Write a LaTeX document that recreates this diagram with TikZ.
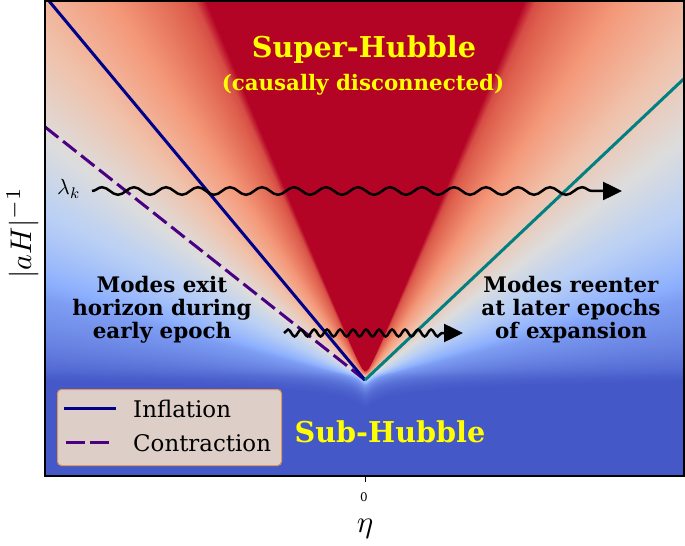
\documentclass[tikz,border=0pt]{standalone}
\usepackage{fontspec}
\usepackage{graphicx}
\usetikzlibrary{decorations.pathmorphing,arrows.meta}
\newfontfamily\djs{DejaVu Serif}
\definecolor{inflc}{HTML}{00008B}
\definecolor{tealc}{HTML}{008080}
\definecolor{contc}{HTML}{4B0082}
\definecolor{legfill}{RGB}{221,207,200}
\definecolor{legedge}{RGB}{222,150,90}
\definecolor{labyel}{HTML}{FFFF00}

\pgfdeclarefunctionalshading{bgfield}{\pgfpointorigin}{\pgfpoint{639bp}{476bp}}{}{
 96 sub dup 8 lt { 8 sub 6 div 2.71828 exch exp 8 mul } if
 exch 320 sub dup mul 16 add sqrt exch div
 dup 0.42 le { pop 1 }
 { dup 0.45 le { 0.42 sub -3.333 mul 1 add }
   { dup 1.78 le { ln 0.799 add -0.371 mul 0.9 add }
     { dup 4 le { ln 0.577 sub -0.235 mul 0.39 add }
       { sqrt 0.4 exch div } ifelse }
     ifelse }
   ifelse }
 ifelse
 dup 0.03 lt { pop 0.03 } if
 dup 0.5 le
 { dup 0.25 le
   { 4 mul dup 0.324 mul 0.230 add exch dup 0.391 mul 0.299 add exch 0.242 mul 0.754 add }
   { dup 0.375 le
     { 0.25 sub 8 mul dup 0.181 mul 0.554 add exch dup 0.128 mul 0.690 add exch -0.041 mul 0.996 add }
     { 0.375 sub 8 mul dup 0.130 mul 0.735 add exch dup 0.047 mul 0.818 add exch -0.090 mul 0.955 add }
     ifelse }
   ifelse }
 { dup 0.75 le
   { dup 0.625 le
     { 0.5 sub 8 mul dup 0.075 mul 0.865 add exch dup -0.105 mul 0.865 add exch -0.195 mul 0.865 add }
     { 0.625 sub 8 mul dup 0.017 mul 0.940 add exch dup -0.162 mul 0.760 add exch -0.193 mul 0.670 add }
     ifelse }
   { dup 0.875 le
     { 0.75 sub 8 mul dup -0.087 mul 0.957 add exch dup -0.228 mul 0.598 add exch -0.177 mul 0.477 add }
     { 0.875 sub 8 mul dup -0.164 mul 0.870 add exch dup -0.354 mul 0.370 add exch -0.150 mul 0.300 add }
     ifelse }
   ifelse }
 ifelse
}

\tikzset{
  hubble/.style={font=\djs\bfseries\fontsize{28.8}{32}\selectfont, text=labyel, anchor=base},
  causal/.style={font=\djs\bfseries\fontsize{21.4}{25}\selectfont, text=labyel, anchor=base},
  modetext/.style={font=\djs\bfseries\fontsize{21.5}{24}\selectfont, text=black, anchor=base},
  legtext/.style={font=\djs\fontsize{23}{25}\selectfont, text=black, anchor=base west, inner sep=0pt},
  inflline/.style={draw=inflc, line width=3bp},
  tealline/.style={draw=tealc, line width=3bp},
  contline/.style={draw=contc, line width=3bp, dash pattern=on 17bp off 6bp},
  wavy/.style={line width=2.5bp, decorate, -{Triangle[length=19bp,width=18bp]}},
}

\begin{document}
\begin{tikzpicture}[x=1bp, y=-1bp]
\useasboundingbox (0,0) rectangle (685,546);
\node[inner sep=0pt, outer sep=0pt, anchor=south west] (field) at (45,476) {\pgfuseshading{bgfield}};

\coordinate (vtx) at (365,380);
\coordinate (inflEnd) at (44,-5);
\coordinate (tealEnd) at (690,73);
\coordinate (contEnd) at (40,123);

\begin{scope}
\clip (45,1) rectangle (684,476);
\draw[contline] (vtx) -- (contEnd);
\draw[inflline] (vtx) -- (inflEnd);
\draw[tealline] (vtx) -- (tealEnd);
\end{scope}

% wavy arrows
\coordinate (w1s) at (92,191);
\coordinate (w1e) at (622,191);
\draw[wavy, decoration={snake, segment length=32bp, amplitude=3.8bp, post length=19bp}] (w1s) -- (w1e);
\coordinate (w2s) at (284,333);
\coordinate (w2e) at (463,333);
\draw[wavy, decoration={snake, segment length=13bp, amplitude=3.5bp, post length=18bp}] (w2s) -- (w2e);

% frame
\draw[line width=1.5bp] (45,1) rectangle (684,476);
\draw[line width=1bp] (365,476) -- (365,482);

% labels
\node[hubble] (sup) at (364,58) {Super-Hubble};
\node[causal] (caus) at (363,91) {(causally disconnected)};
\node[hubble] (sub) at (390,442) {Sub-Hubble};

\node[modetext] (ml1) at (162,292) {Modes exit};
\node[modetext] (ml2) at (162,315) {horizon during};
\node[modetext] (ml3) at (162,338) {early epoch};
\node[modetext] (mr1) at (571,292) {Modes reenter};
\node[modetext] (mr2) at (571,315) {at later epochs};
\node[modetext] (mr3) at (571,338) {of expansion};

\node[anchor=base west, inner sep=0pt] (lam) at (57,195) {\scalebox{2.2}{$\lambda_k$}};

% legend
\node[draw=legedge, fill=legfill, line width=1bp, rounded corners=4bp, minimum width=224bp, minimum height=76bp, anchor=north west, inner sep=0pt] (legend) at (57,389) {};
\coordinate (l1a) at (64,408);
\coordinate (l1b) at (116,408);
\draw[inflline] (l1a) -- (l1b);
\coordinate (l2a) at (66,442);
\coordinate (l2b) at (109,442);
\draw[contline, dash pattern=on 19bp off 5bp] (l2a) -- (l2b);
\node[legtext] (lt1) at (133,417) {Inflation};
\node[legtext] (lt2) at (133,451) {Contraction};

% axes labels
\node[anchor=base, inner sep=0pt, font=\djs\fontsize{12}{14}\selectfont] (tick0) at (364,501) {0};
\node[anchor=base, inner sep=0pt] (eta) at (365,532) {\scalebox{3.1}{$\eta$}};
\node[anchor=base, inner sep=0pt, rotate=90] (ylab) at (31,233) {\scalebox{3.0}{$|aH|^{-1}$}};
\end{tikzpicture}
\end{document}
